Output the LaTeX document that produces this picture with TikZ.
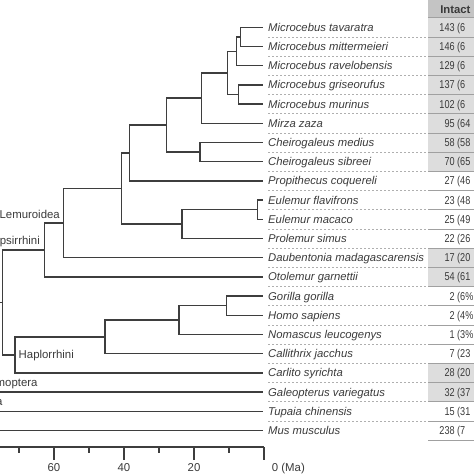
\documentclass[tikz,border=0pt]{standalone}
\usepackage{fontspec}
\setmainfont{Liberation Sans}
\newfontfamily\condfont[FakeStretch=0.8]{Liberation Sans}
\usepackage{tikz}
\usetikzlibrary{positioning}
\usepackage{xcolor}
\definecolor{treegray}{RGB}{62,62,62}
\definecolor{txtgray}{RGB}{58,58,58}
\definecolor{dashgray}{RGB}{175,175,175}
\definecolor{linegray}{RGB}{160,160,160}
\definecolor{cellgray}{RGB}{221,221,221}
\definecolor{headgray}{RGB}{196,196,196}
\tikzstyle{branch} = [line width=1.3pt, color=treegray]
\tikzstyle{taxon} = [anchor=west, inner sep=0pt, text height=8pt, text depth=0pt, text=txtgray, font=\fontsize{11.3}{13}\selectfont\itshape]
\tikzstyle{clade} = [inner sep=0pt, text height=8pt, text depth=0pt, text=txtgray, font=\fontsize{11.4}{13}\selectfont]
\tikzstyle{count} = [anchor=west, inner sep=0pt, text height=8pt, text depth=0pt, text=txtgray, font=\fontsize{11.4}{13}\selectfont\condfont]
\tikzstyle{rowsep} = [dashgray, line width=0.5pt, dash pattern=on 2pt off 2pt]
\tikzstyle{cellsep} = [linegray, line width=0.6pt]

\begin{document}
\begin{tikzpicture}[x=1pt,y=-1pt]
\useasboundingbox (0,0) rectangle (474,474);
\clip (0,0) rectangle (474,474);

% Table shading
\fill[headgray] (428,0) rectangle (474,17.7);
\foreach \i in {0,1,2,3,4,5,6,7,12,13,18,19} {
    \fill[cellgray] (428,{17.7+19.2*\i}) rectangle (474,{17.7+19.2*(\i+1)});
}
\draw[cellsep] (428,17.7) -- (474,17.7);
\foreach \i in {0,...,21} {
    \draw[cellsep] (428,{36.9+19.2*\i}) -- (474,{36.9+19.2*\i});
}
\foreach \i in {0,...,20} {
    \draw[rowsep] (268,{36.9+19.2*\i}) -- (428,{36.9+19.2*\i});
}
\node[clade, font=\fontsize{11.3}{13}\selectfont\bfseries] (intact) at (455.4,9.3) {Intact};

% Taxa
\foreach \i/\name in {0/Microcebus tavaratra, 1/Microcebus mittermeieri, 2/Microcebus ravelobensis,
    3/Microcebus griseorufus, 4/Microcebus murinus, 5/Mirza zaza, 6/Cheirogaleus medius,
    7/Cheirogaleus sibreei, 8/Propithecus coquereli, 9/Eulemur flavifrons, 10/Eulemur macaco,
    11/Prolemur simus, 12/Daubentonia madagascarensis, 13/Otolemur garnettii, 14/Gorilla gorilla,
    15/Homo sapiens, 16/Nomascus leucogenys, 17/Callithrix jacchus, 18/Carlito syrichta,
    19/Galeopterus variegatus, 20/Tupaia chinensis, 21/Mus musculus} {
    \coordinate (tip\i) at (263,{27.3+19.2*\i});
    \node[taxon] (sp\i) at (268,{27.3+19.2*\i}) {\name};
}

% Intact counts
\foreach \i/\n/\p in {0/143/6, 1/146/6, 2/129/6, 3/137/6, 4/102/6, 5/95/64, 6/58/58, 7/70/65,
    8/27/46, 9/23/48, 10/25/49, 11/22/26, 12/17/20, 13/54/61, 14/2/6\%, 15/2/4\%, 16/1/3\%,
    17/7/23, 18/28/20, 19/32/37, 20/15/31, 21/238/7} {
    \node[count] (ct\i) at (457,{27.3+19.2*\i}) {\llap{\n\ }(\p};
}

% Internal nodes
\coordinate (nTM) at (240.7,36.9);
\coordinate (nTMR) at (236.7,51.3);
\coordinate (nGM) at (238.7,94.5);
\coordinate (nMic) at (227.3,72.9);
\coordinate (nMM) at (201.7,98.1);
\coordinate (nChe) at (200,152.1);
\coordinate (nCheir) at (166.7,125.1);
\coordinate (nCP) at (129.7,153);
\coordinate (nEul) at (257.3,209.7);
\coordinate (nLem) at (182,224.1);
\coordinate (nLemur) at (121.7,188.55);
\coordinate (nLemf) at (63.3,223.1);
\coordinate (nStrep) at (44.3,250);
\coordinate (nHom) at (226.7,305.7);
\coordinate (nCat) at (179,320.1);
\coordinate (nAnth) at (105,336.9);
\coordinate (nHap) at (15,354.9);
\coordinate (nPrim) at (2.7,302.45);
\coordinate (nPrimo) at (-8,347.3);
\coordinate (nEuarch) at (-12,379.3);
\coordinate (nRoot) at (-16,404.9);

% Branches
\foreach \p/\c in {nTM/tip0, nTM/tip1, nTMR/nTM, nTMR/tip2, nGM/tip3, nGM/tip4,
    nMic/nTMR, nMic/nGM, nMM/nMic, nMM/tip5, nChe/tip6, nChe/tip7,
    nCheir/nMM, nCheir/nChe, nCP/nCheir, nCP/tip8, nEul/tip9, nEul/tip10,
    nLem/nEul, nLem/tip11, nLemur/nCP, nLemur/nLem, nLemf/nLemur, nLemf/tip12,
    nStrep/nLemf, nStrep/tip13, nHom/tip14, nHom/tip15, nCat/nHom, nCat/tip16,
    nAnth/nCat, nAnth/tip17, nHap/nAnth, nHap/tip18, nPrim/nStrep, nPrim/nHap,
    nPrimo/nPrim, nPrimo/tip19, nEuarch/nPrimo, nEuarch/tip20, nRoot/nEuarch, nRoot/tip21} {
    \draw[branch] (\p) |- (\c);
}

% Clade labels
\node[clade, anchor=east] (lemuroidea) at (60,214.8) {Lemuroidea};
\node[clade, anchor=east] (strepsirrhini) at (40,240.5) {Strepsirrhini};
\node[clade, anchor=west] (haplorrhini) at (18.5,354.3) {Haplorrhini};
\node[clade, anchor=east] (dermoptera) at (37.7,382) {Dermoptera};
\node[clade, anchor=east] (scandentia) at (2.7,401) {Scandentia};

% Time axis
\draw[branch] (-20,447) -- (264,447);
\foreach \t in {0,20,40,60,80} {
    \draw[branch] ({264-3.5*\t},447) -- ++(0,13);
}
\foreach \t in {10,30,50,70} {
    \draw[branch] ({264-3.5*\t},447) -- ++(0,6);
}
\foreach \t in {20,40,60} {
    \node[clade] (ma\t) at ({264-3.5*\t},467.5) {\t};
}
\node[clade, anchor=west] (ma0) at (271.7,467.5) {0 (Ma)};
\end{tikzpicture}
\end{document}
